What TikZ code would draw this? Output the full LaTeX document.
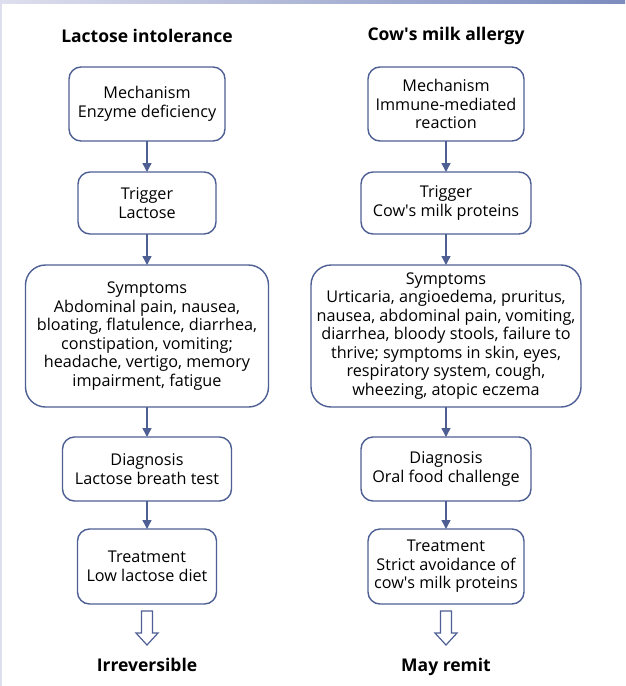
\documentclass[tikz,border=0pt]{standalone}
\usepackage{fontspec}
\setmainfont{Open Sans}
\usetikzlibrary{positioning,arrows.meta}
\definecolor{edge}{RGB}{78,95,148}
\definecolor{barleft}{RGB}{222,223,238}
\definecolor{barright}{RGB}{124,140,190}
\newcommand{\qt}{\textquotesingle}
\tikzset{
box/.style={rectangle,rounded corners=12pt,align=center,
inner sep=4pt,outer sep=0pt,draw=edge,line width=1.4pt,fill=white,
font=\fontsize{16.2}{18.5}\selectfont},
bigbox/.style={box,rounded corners=20pt},
title/.style={inner sep=0pt,outer sep=0pt,font=\fontsize{17.5}{20}\selectfont\bfseries},
flow/.style={draw=edge,line width=1.4pt,-{Triangle[width=9pt,length=9pt]}},
hollow/.style={draw=edge,line width=1.2pt,fill=white,line join=miter}
}
\begin{document}
\begin{tikzpicture}[x=1pt,y=-1pt]
\useasboundingbox (0,0) rectangle (625,686);
\shade[left color=barleft,right color=barright] (0,0) rectangle (625,3);
\fill[barleft] (0,0) rectangle (2,686);

% lactose intolerance
\node[title] (LT) at (147,36) {Lactose intolerance};
\node[box,minimum width=156pt,minimum height=74pt] (M1) at (147,104)
{Mechanism\\Enzyme deficiency};
\node[box,minimum width=138pt,minimum height=62pt,below=31pt of M1] (T1)
{Trigger\\Lactose};
\node[bigbox,minimum width=243pt,minimum height=142pt,below=31pt of T1] (S1)
{Symptoms\\Abdominal pain, nausea,\\bloating, flatulence, diarrhea,\\constipation, vomiting;\\headache, vertigo, memory\\impairment, fatigue};
\node[box,minimum width=169pt,minimum height=64pt,below=30pt of S1] (D1)
{Diagnosis\\Lactose breath test};
\node[box,minimum width=139pt,minimum height=75pt,below=28pt of D1] (R1)
{Treatment\\Low lactose diet};
\path (R1.south) ++(0,7) coordinate (A1) ++(0,34) coordinate (A1tip);
\node[title,below=26pt of A1tip,anchor=base] (E1) {Irreversible};

% cow's milk allergy
\node[title] (CM) at (446,36) {Cow\qt s milk allergy};
\node[box,minimum width=156pt,minimum height=74pt] (M2) at (446,104)
{Mechanism\\Immune-mediated\\reaction};
\node[box,minimum width=170pt,minimum height=62pt,below=31pt of M2] (T2)
{Trigger\\Cow\qt s milk proteins};
\node[bigbox,minimum width=270pt,minimum height=142pt,below=31pt of T2] (S2)
{Symptoms\\Urticaria, angioedema, pruritus,\\nausea, abdominal pain, vomiting,\\diarrhea, bloody stools, failure to\\thrive; symptoms in skin, eyes,\\respiratory system, cough,\\wheezing, atopic eczema};
\node[box,minimum width=170pt,minimum height=64pt,below=30pt of S2] (D2)
{Diagnosis\\Oral food challenge};
\node[box,minimum width=156pt,minimum height=75pt,below=28pt of D2] (R2)
{Treatment\\Strict avoidance of\\cow\qt s milk proteins};
\path (R2.south) ++(0,7) coordinate (A2) ++(0,34) coordinate (A2tip);
\node[title,below=26pt of A2tip,anchor=base] (E2) {May remit};

\draw[flow] (M1) -- (T1);
\draw[flow] (T1) -- (S1);
\draw[flow] (S1) -- (D1);
\draw[flow] (D1) -- (R1);
\draw[flow] (M2) -- (T2);
\draw[flow] (T2) -- (S2);
\draw[flow] (S2) -- (D2);
\draw[flow] (D2) -- (R2);

% hollow arrows
\draw[hollow] (A1) ++(-5.5,0) -- ++(0,22) -- ++(-5.5,0) -- (A1tip)
-- ++(11,-12) -- ++(-5.5,0) -- ++(0,-22) -- cycle;
\draw[hollow] (A2) ++(-5.5,0) -- ++(0,22) -- ++(-5.5,0) -- (A2tip)
-- ++(11,-12) -- ++(-5.5,0) -- ++(0,-22) -- cycle;
\end{tikzpicture}
\end{document}
